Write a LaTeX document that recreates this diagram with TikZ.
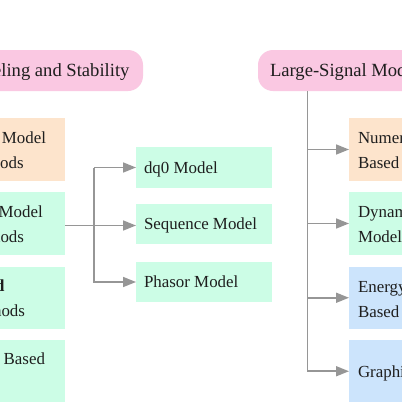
\documentclass[tikz,border=0pt]{standalone}
\usepackage{fontspec}
\setmainfont{Liberation Serif}
\usetikzlibrary{arrows.meta}
\definecolor{pinkh}{RGB}{250,200,226}
\definecolor{peachb}{RGB}{253,228,204}
\definecolor{mintb}{RGB}{204,253,230}
\definecolor{blueb}{RGB}{204,228,252}
\definecolor{arrgray}{RGB}{150,150,150}
\definecolor{txt}{RGB}{30,30,30}
\begin{document}
\begin{tikzpicture}[x=1pt,y=-1pt,
  boxs/.style={draw=none,inner sep=0pt,outer sep=0pt,anchor=north west},
  head/.style={boxs,fill=pinkh,rounded corners=15pt,minimum height=41pt},
  lab/.style={inner sep=0pt,outer sep=0pt,text=txt,font=\fontsize{16.9}{20}\selectfont},
  hlab/.style={lab,font=\fontsize{18.6}{22}\selectfont},
  arr/.style={draw=arrgray,line width=1.6pt,-{Triangle[length=13pt,width=10pt]}}]
\useasboundingbox (0,0) rectangle (402,402);
\clip (0,0) rectangle (402,402);
\fill[white] (0,0) rectangle (402,402);
% headers
\node[head,minimum width=343pt] (hL) at (-200,50) {};
\node[head,minimum width=250pt] (hR) at (258,50) {};
\node[hlab,anchor=base east] (hLt) at (129.5,76.5) {Modeling and Stability};
\node[hlab,anchor=base west] (hRt) at (270,76.5) {Large-Signal Modeling};
% left column
\node[boxs,fill=peachb,minimum width=165pt,minimum height=63pt] (L1) at (-100,118) {};
\node[boxs,fill=mintb,minimum width=165pt,minimum height=63pt] (L2) at (-100,192) {};
\node[boxs,fill=mintb,minimum width=165pt,minimum height=62.5pt] (L3) at (-100,266.5) {};
\node[boxs,fill=mintb,minimum width=165pt,minimum height=63.5pt] (L4) at (-100,339.5) {};
\node[lab,anchor=base east] (L1a) at (46,143.5) {Model};
\node[lab,anchor=base east] (L1b) at (23.7,168.5) {Methods};
\node[lab,anchor=base east] (L2a) at (42.7,217.5) {Model};
\node[lab,anchor=base east] (L2b) at (24,242.5) {Methods};
\node[lab,anchor=base east,font=\fontsize{16.9}{20}\selectfont\bfseries] (L3a) at (4.5,291.5) {d};
\node[lab,anchor=base east] (L3b) at (25,316.5) {Methods};
\node[lab,anchor=base east] (L4a) at (45,364.5) {Based};
% middle column
\node[boxs,fill=mintb,minimum width=135.5pt,minimum height=41pt] (dq) at (136,147) {};
\node[boxs,fill=mintb,minimum width=135.5pt,minimum height=40.5pt] (sq) at (136,203.5) {};
\node[boxs,fill=mintb,minimum width=135.5pt,minimum height=40pt] (ph) at (136,262) {};
\node[lab,anchor=base west] (dqt) at (144,173) {dq0 Model};
\node[lab,anchor=base west] (sqt) at (144,229) {Sequence Model};
\node[lab,anchor=base west] (pht) at (144,287) {Phasor Model};
% right column
\node[boxs,fill=peachb,minimum width=160pt,minimum height=63pt] (R1) at (349,118) {};
\node[boxs,fill=mintb,minimum width=160pt,minimum height=63pt] (R2) at (349,192) {};
\node[boxs,fill=blueb,minimum width=160pt,minimum height=62.5pt] (R3) at (349,266.5) {};
\node[boxs,fill=blueb,minimum width=160pt,minimum height=63.5pt] (R4) at (349,339.5) {};
\node[lab,anchor=base west] (R1a) at (358,143.5) {Numerical};
\node[lab,anchor=base west] (R1b) at (358,168.5) {Based};
\node[lab,anchor=base west] (R2a) at (358,217.5) {Dynamic};
\node[lab,anchor=base west] (R2b) at (358,242.5) {Model};
\node[lab,anchor=base west] (R3a) at (358,292) {Energy};
\node[lab,anchor=base west] (R3b) at (358,317) {Based};
\node[lab,anchor=base west] (R4a) at (358,377) {Graphical};
% connectors left
\coordinate (tl) at (94,0);
\draw[arr] (L2.east) ++(0,2) -- (sq.west |- 0,225.5);
\draw[arr] (tl |- dq.west) -- (dq.west);
\draw[arr] (tl |- dq.west) -- (tl |- ph.west) -- (ph.west);
% connectors right
\coordinate (tr) at (307.5,0);
\draw[arr] (tr |- hR.south) -- (tr |- R4.west) -- (R4.west);
\draw[arr] (tr |- R1.west) -- (R1.west);
\draw[arr] (tr |- R2.west) -- (R2.west);
\draw[arr] (tr |- R3.west) -- (R3.west);
\end{tikzpicture}
\end{document}
